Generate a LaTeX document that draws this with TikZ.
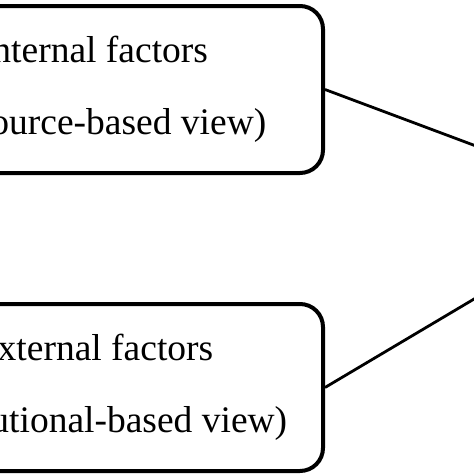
\documentclass[tikz,border=0pt]{standalone}
\usepackage{fontspec}
\setmainfont{Liberation Serif}
\usetikzlibrary{positioning}

\begin{document}
\begin{tikzpicture}[x=1pt, y=-1pt, line join=round, factor/.style = {draw, line width=4pt, rounded corners=23pt, minimum width=458pt, minimum height=167pt, align=center, font=\fontsize{37.5}{72}\selectfont}]
            \useasboundingbox (0,0) rectangle (474,474);
            \clip (0,0) rectangle (474,474);
            \node[factor] (internal) at (94,89.5) {Internal factors\\(Resource-based view)};
            \node[factor] (external) [below=127pt of internal] {External factors\\(Institutional-based view)};
            \coordinate (top) at (480,147.5);
            \coordinate (bottom) at (480,295.5);
            \path[draw, line width=2.8pt]
            (internal.east) -- (top)
            (external.east) -- (bottom);
        \end{tikzpicture}
\end{document}
